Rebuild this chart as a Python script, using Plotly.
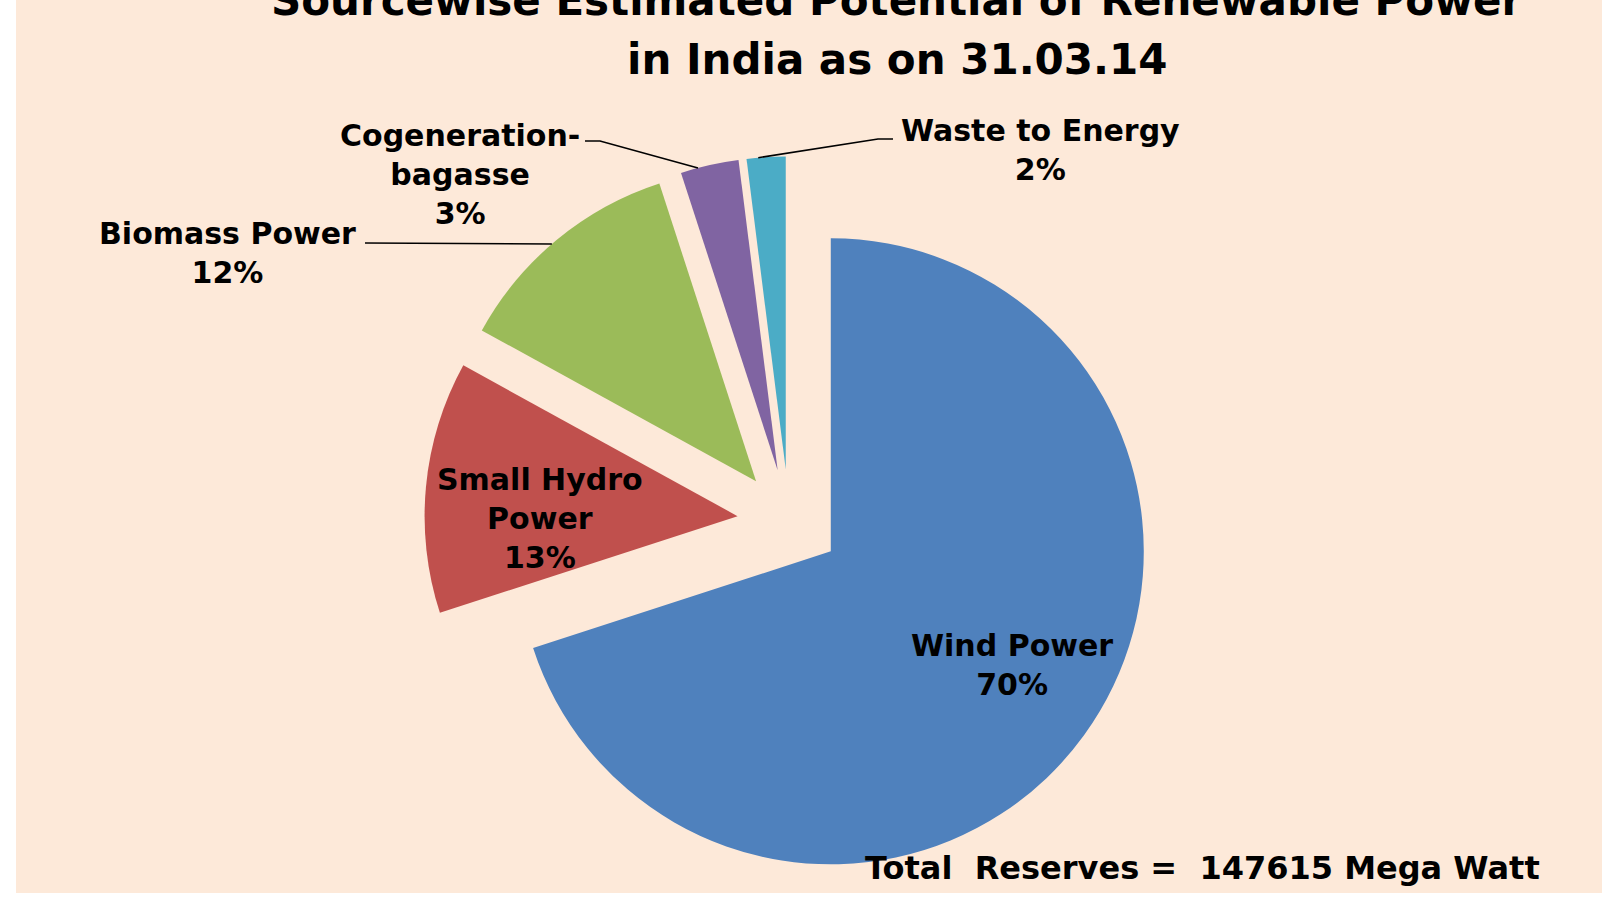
import numpy as np
import plotly.graph_objects as go

# ---------------- data ----------------
sources = ["Wind Power", "Small Hydro Power", "Biomass Power",
           "Cogeneration-bagasse", "Waste to Energy"]
display_names = ["Wind Power", "Small Hydro<br>Power", "Biomass Power",
                 "Cogeneration-<br>bagasse", "Waste to Energy"]
share_pct = [70, 13, 12, 3, 2]
total_mw = 147615
title_lines = ["Sourcewise Estimated Potential of Renewable Power",
               "in India as on 31.03.14"]

colors = ["#4F81BD", "#C0504D", "#9BBB59", "#8064A2", "#4BACC6"]

# ---------------- layout parameters (pixels) ----------------
W, H = 1602, 897
CX, CY = 789, 521          # pie centre
R_PIE = 313                # pie radius
PULL = 0.165               # explosion of every slice
FONT = "DejaVu Sans"
BG = "#FDE9D9"

half = R_PIE * (1 + PULL)
dom_x = [(CX - half) / W, (CX + half) / W]
dom_y = [1 - (CY + half) / H, 1 - (CY - half) / H]


def px(x):
    return x / W


def py(y):
    return 1 - y / H


vals = np.array(share_pct, dtype=float)
frac = vals / vals.sum()
start_deg = np.concatenate([[0], np.cumsum(frac)[:-1]]) * 360
mid_deg = start_deg + frac * 180


def arc_point(i, pos_in_slice):
    """pixel point on the outer arc of exploded slice i"""
    theta = np.radians(start_deg[i] + pos_in_slice * frac[i] * 360)
    m = np.radians(mid_deg[i])
    cx = CX + PULL * R_PIE * np.sin(m)
    cy = CY - PULL * R_PIE * np.cos(m)
    return cx + R_PIE * np.sin(theta), cy - R_PIE * np.cos(theta)


def arc_point_at_y(i, y_target):
    pos = np.linspace(0.05, 0.95, 400)
    ys = np.array([arc_point(i, p)[1] for p in pos])
    return arc_point(i, pos[np.argmin(np.abs(ys - y_target))])


fig = go.Figure(go.Pie(
    labels=sources,
    values=share_pct,
    sort=False,
    direction="clockwise",
    rotation=0,
    pull=[PULL] * len(share_pct),
    marker=dict(colors=colors, line=dict(width=0)),
    textinfo="none",
    hoverinfo="label+percent",
    showlegend=False,
    domain=dict(x=dom_x, y=dom_y),
))

annotations = []
# title
annotations.append(dict(text="<b>%s</b>" % title_lines[0], x=px(896), y=py(0),
                        font=dict(size=42)))
annotations.append(dict(text="<b>%s</b>" % title_lines[1], x=px(897), y=py(60),
                        font=dict(size=42)))

# slice labels
label_pos = [(1012, 665), (540, 518), (227, 253), (460, 175), (1040, 150)]
for name, pct, (lx, ly) in zip(display_names, share_pct, label_pos):
    annotations.append(dict(text="<b>%s<br>%d%%</b>" % (name, pct),
                            x=px(lx), y=py(ly), font=dict(size=30)))

annotations.append(dict(
    text="<b>Total\u00a0 Reserves =\u00a0 %d Mega Watt</b>" % total_mw,
    x=px(863), y=py(868), xanchor="left", font=dict(size=32)))

for a in annotations:
    a.update(xref="paper", yref="paper", showarrow=False,
             align="center")
    a.setdefault("xanchor", "center")
    a.setdefault("yanchor", "middle")
    a["font"].update(family=FONT, color="#000000")

# leader lines
shapes = []


def path(points):
    return "M " + " L ".join("%f,%f" % (px(x), py(y)) for x, y in points)


bx, by = arc_point_at_y(2, 244)
cgx, cgy = arc_point(3, 0.3)
wx, wy = arc_point(4, 0.3)
leaders = [
    [(365, 243), (bx, by)],
    [(585, 141), (600, 141), (cgx, cgy)],
    [(wx, wy), (878, 139), (893, 139)],
]
for pts in leaders:
    shapes.append(dict(type="path", path=path(pts), xref="paper", yref="paper",
                       line=dict(color="#000000", width=1.6)))

# white frame strips (left and bottom) of the original image
shapes.append(dict(type="rect", xref="paper", yref="paper", x0=0, x1=px(16),
                   y0=0, y1=1, fillcolor="#FFFFFF", line=dict(width=0)))
shapes.append(dict(type="rect", xref="paper", yref="paper", x0=0, x1=1,
                   y0=0, y1=py(893), fillcolor="#FFFFFF", line=dict(width=0)))

fig.update_layout(
    width=W, height=H,
    margin=dict(l=0, r=0, t=0, b=0),
    paper_bgcolor=BG,
    plot_bgcolor=BG,
    annotations=annotations,
    shapes=shapes,
    font=dict(family=FONT),
)

fig.write_html("out.html")
